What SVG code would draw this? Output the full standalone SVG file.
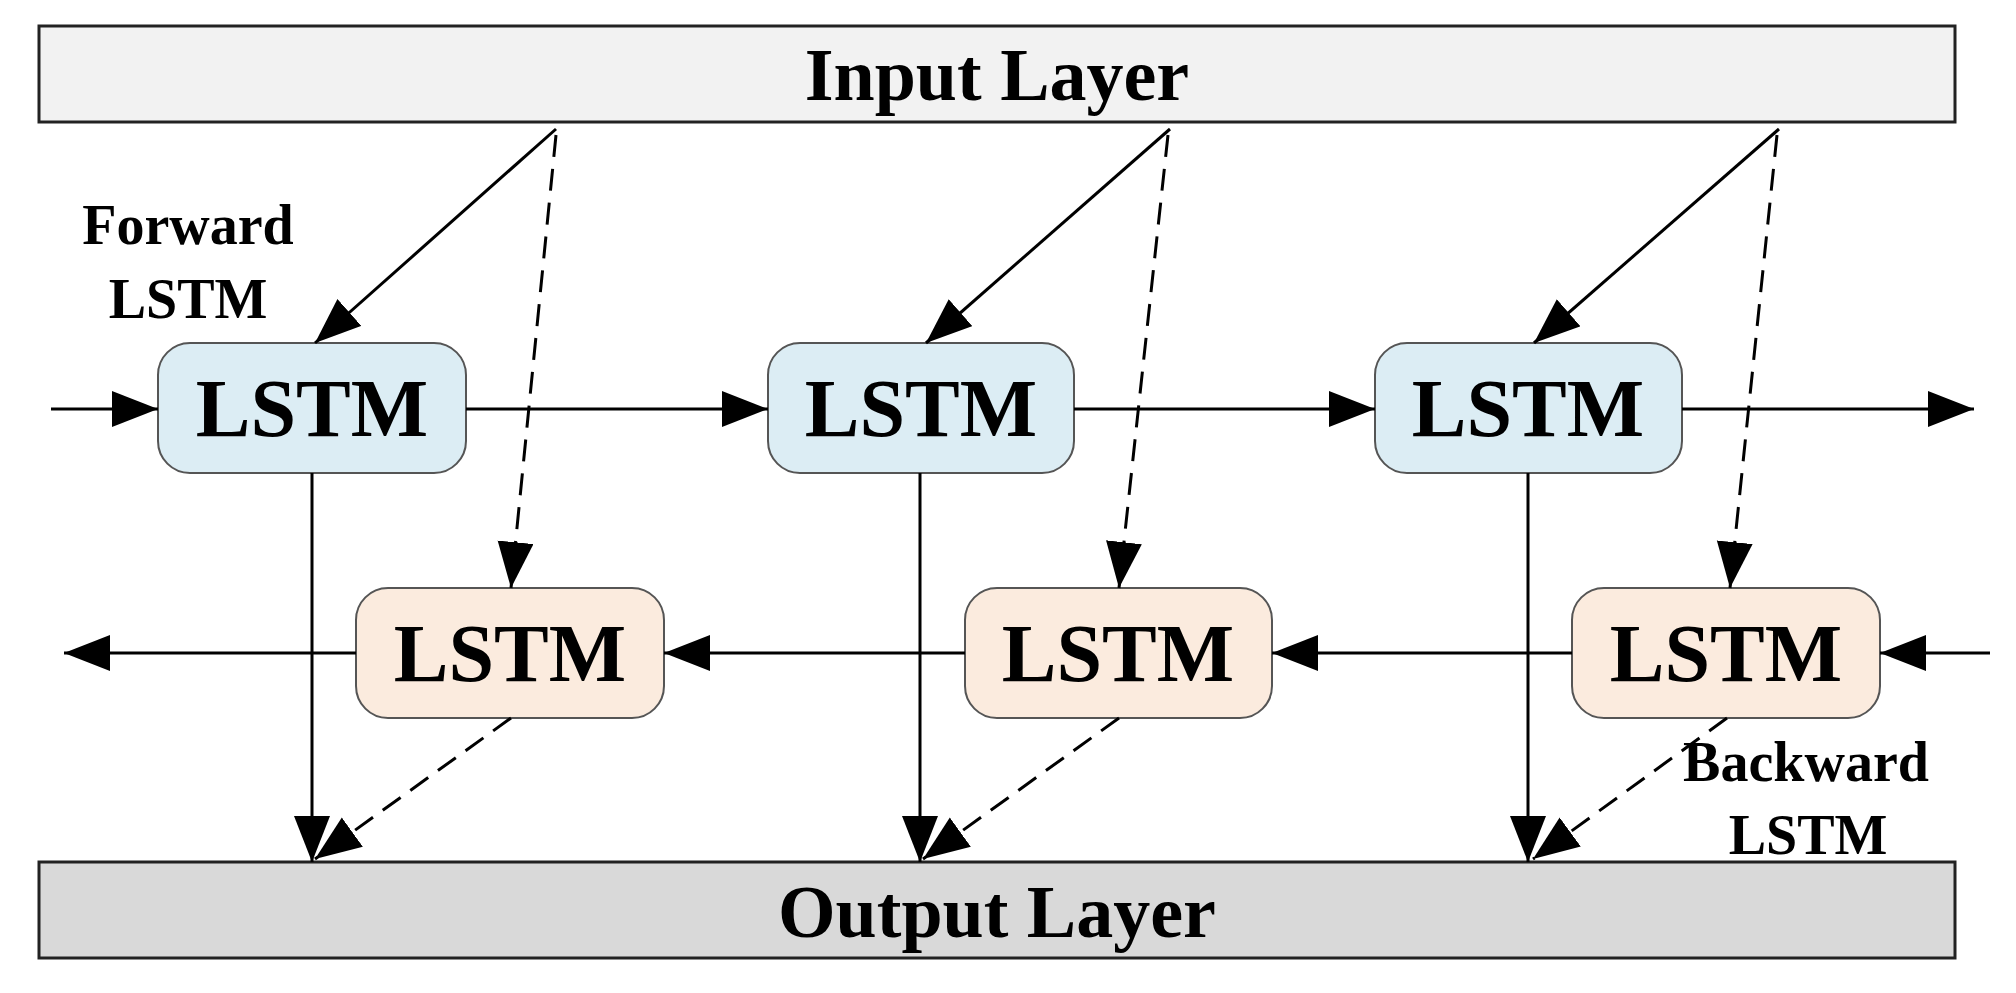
<svg xmlns="http://www.w3.org/2000/svg" width="2016" height="993" viewBox="0 0 2016 993">
<style>
.t{font-family:"Liberation Serif","Times New Roman",serif;font-weight:bold;fill:#000;text-anchor:middle}
.ln{stroke:#000;stroke-width:3;fill:none;marker-end:url(#ah)}
.d{stroke-dasharray:22 12}
.f{fill:#dcedf4;stroke:#555;stroke-width:2}
.b{fill:#fbebde;stroke:#555;stroke-width:2}
</style>
<defs>
<marker id="ah" markerUnits="userSpaceOnUse" markerWidth="50" markerHeight="40" refX="46" refY="18" orient="auto">
<path d="M0,0 L46,18 L0,36 Z" fill="#000"/>
</marker>
</defs>
<rect width="2016" height="993" fill="#fff"/>
<g id="input"><rect x="39" y="26" width="1916" height="96" fill="#f2f2f2" stroke="#222" stroke-width="3"/><text class="t" x="997" y="100" font-size="74">Input Layer</text></g>
<g id="output"><rect x="39" y="862" width="1916" height="96" fill="#d9d9d9" stroke="#222" stroke-width="3"/><text class="t" x="997" y="937" font-size="74">Output Layer</text></g>
<g id="f1"><rect class="f" x="158" y="343" width="308" height="130" rx="32"/><text class="t" x="312" y="436" font-size="82">LSTM</text></g>
<g id="f2"><rect class="f" x="768" y="343" width="306" height="130" rx="32"/><text class="t" x="921" y="436" font-size="82">LSTM</text></g>
<g id="f3"><rect class="f" x="1375" y="343" width="307" height="130" rx="32"/><text class="t" x="1528" y="436" font-size="82">LSTM</text></g>
<g id="b1"><rect class="b" x="356" y="588" width="308" height="130" rx="32"/><text class="t" x="510" y="681" font-size="82">LSTM</text></g>
<g id="b2"><rect class="b" x="965" y="588" width="307" height="130" rx="32"/><text class="t" x="1118" y="681" font-size="82">LSTM</text></g>
<g id="b3"><rect class="b" x="1572" y="588" width="308" height="130" rx="32"/><text class="t" x="1726" y="681" font-size="82">LSTM</text></g>
<g id="labels">
<text class="t" x="188" y="244" font-size="56">Forward</text><text class="t" x="188" y="318" font-size="56">LSTM</text>
<text class="t" x="1806" y="781" font-size="56">Backward</text><text class="t" x="1808" y="854" font-size="56">LSTM</text>
</g>
<g id="connectors">
<line class="ln" x1="51" y1="409" x2="158" y2="409"/>
<line class="ln" x1="466" y1="409" x2="768" y2="409"/>
<line class="ln" x1="1074" y1="409" x2="1375" y2="409"/>
<line class="ln" x1="1682" y1="409" x2="1974" y2="409"/>
<line class="ln" x1="1990" y1="653" x2="1880" y2="653"/>
<line class="ln" x1="1572" y1="653" x2="1272" y2="653"/>
<line class="ln" x1="965" y1="653" x2="664" y2="653"/>
<line class="ln" x1="356" y1="653" x2="64" y2="653"/>
<line class="ln" x1="556" y1="129" x2="315" y2="343"/>
<line class="ln" x1="1170" y1="129" x2="926" y2="343"/>
<line class="ln" x1="1779" y1="129" x2="1534" y2="343"/>
<line class="ln d" x1="556" y1="135" x2="511" y2="588"/>
<line class="ln d" x1="1168" y1="135" x2="1119" y2="588"/>
<line class="ln d" x1="1777" y1="135" x2="1730" y2="588"/>
<line class="ln" x1="312" y1="473" x2="312" y2="862"/>
<line class="ln" x1="920" y1="473" x2="920" y2="862"/>
<line class="ln" x1="1528" y1="473" x2="1528" y2="862"/>
<line class="ln d" x1="511" y1="718" x2="315" y2="859"/>
<line class="ln d" x1="1119" y1="718" x2="923" y2="859"/>
<line class="ln d" x1="1727" y1="718" x2="1533" y2="859"/>
</g>
</svg>
